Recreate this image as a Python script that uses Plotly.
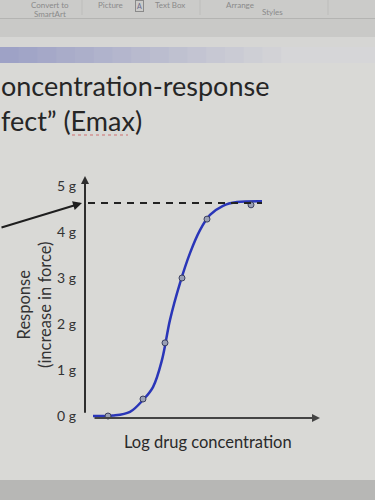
import plotly.graph_objects as go

# ---- data ----
log_conc_points = [0.75, 2.5, 3.6, 4.45, 5.7, 7.9]
response_points = [0.0, 0.37, 1.59, 3.0, 4.28, 4.59]

log_conc_curve = [0.0, 1.0, 1.85, 2.5, 3.0, 3.45, 3.85, 4.35, 4.85, 5.35, 5.85, 6.5, 7.2, 8.45]
response_curve = [0.0, 0.01, 0.09, 0.35, 0.63, 1.22, 2.09, 2.89, 3.54, 4.04, 4.37, 4.57, 4.65, 4.67]

emax = 4.63
y_tick_vals = [0, 1, 2, 3, 4, 5]
y_tick_text = ["0 g", "1 g", "2 g", "3 g", "4 g", "5 g"]

W, H = 375, 500
L, R, T, B = 85, 50, 176, 82
PW, PH = W - L - R, H - T - B


def xp(px):
    return (px - L) / PW


def yp(py):
    return (H - B - py) / PH


XMIN, XMAX = -0.4, 11.6
YMIN, YMAX = -0.043, 5.217

fig = go.Figure()

fig.add_trace(go.Scatter(
    x=log_conc_curve, y=response_curve, mode="lines",
    line=dict(color="#2a36b8", width=2.5, shape="spline", smoothing=1.0),
    hoverinfo="skip", showlegend=False, cliponaxis=False))
fig.add_trace(go.Scatter(
    x=log_conc_points, y=response_points, mode="markers",
    marker=dict(size=6, color="#9aa0b4", line=dict(color="#3a3f60", width=1)),
    showlegend=False, cliponaxis=False))

shapes = []
# photo background bands
shapes.append(dict(type="rect", xref="paper", yref="paper", x0=xp(0), x1=xp(W), y0=yp(0), y1=yp(18),
                   fillcolor="#cbcbc9", line_width=0, layer="below"))
shapes.append(dict(type="rect", xref="paper", yref="paper", x0=xp(0), x1=xp(W), y0=yp(18), y1=yp(37),
                   fillcolor="#c9c9c7", line_width=0, layer="below"))
shapes.append(dict(type="line", xref="paper", yref="paper", x0=xp(0), x1=xp(W), y0=yp(18.5), y1=yp(18.5),
                   line=dict(color="#b4b4b2", width=1), layer="below"))
shapes.append(dict(type="rect", xref="paper", yref="paper", x0=xp(0), x1=xp(W), y0=yp(37), y1=yp(47),
                   fillcolor="#d6d6d4", line_width=0, layer="below"))
for sx in [82, 200, 328]:
    shapes.append(dict(type="line", xref="paper", yref="paper", x0=xp(sx), x1=xp(sx), y0=yp(0), y1=yp(15),
                       line=dict(color="#bdbdbb", width=1), layer="below"))
# purple title bar with fade
n = 16
c0 = (158, 162, 198)
c1 = (214, 214, 216)
for i in range(n):
    t = i / (n - 1)
    col = "rgb(%d,%d,%d)" % tuple(int(c0[k] + (c1[k] - c0[k]) * t) for k in range(3))
    shapes.append(dict(type="rect", xref="paper", yref="paper",
                       x0=xp(i * 300 / n), x1=xp((i + 1) * 300 / n + 1), y0=yp(47), y1=yp(63),
                       fillcolor=col, line_width=0, layer="below"))
shapes.append(dict(type="rect", xref="paper", yref="paper", x0=xp(300), x1=xp(W), y0=yp(47), y1=yp(63),
                   fillcolor="#d6d6d8", line_width=0, layer="below"))
shapes.append(dict(type="rect", xref="paper", yref="paper", x0=xp(0), x1=xp(W), y0=yp(480), y1=yp(H),
                   fillcolor="#b7b7b5", line_width=0, layer="below"))
# red squiggle under Emax
shapes.append(dict(type="line", xref="paper", yref="paper", x0=xp(72), x1=xp(128), y0=yp(135), y1=yp(135),
                   line=dict(color="#d07070", width=1.2, dash="dot")))
# Emax dashed line
shapes.append(dict(type="line", xref="x", yref="y", x0=-0.25, x1=8.45, y0=emax, y1=emax,
                   line=dict(color="#222222", width=2, dash="7px,6px")))

annotations = []
# axes drawn as arrows
annotations.append(dict(x=XMIN, y=YMAX, ax=XMIN, ay=0.04, xref="x", yref="y", axref="x", ayref="y",
                        showarrow=True, arrowhead=2, arrowsize=0.8, arrowwidth=2, arrowcolor="#2e2e2e", text=""))
annotations.append(dict(x=11.35, y=YMIN, ax=0.0, ay=YMIN, xref="x", yref="y", axref="x", ayref="y",
                        showarrow=True, arrowhead=2, arrowsize=0.8, arrowwidth=2, arrowcolor="#444444", text=""))
# pointer arrow to Emax
annotations.append(dict(x=xp(82), y=yp(203), ax=-86, ay=25, xref="paper", yref="paper",
                        axref="pixel", ayref="pixel", showarrow=True, arrowhead=2, arrowsize=0.9,
                        arrowwidth=2, arrowcolor="#1e1e1e", text=""))
# title
annotations.append(dict(x=xp(-1), y=yp(86), xref="paper", yref="paper", xanchor="left", yanchor="middle",
                        text="oncentration-response", showarrow=False,
                        font=dict(family="Lato", size=27, color="#262626")))
annotations.append(dict(x=xp(-1), y=yp(120), xref="paper", yref="paper", xanchor="left", yanchor="middle",
                        text="fect\u201d (Emax)", showarrow=False,
                        font=dict(family="Lato", size=27, color="#262626")))
# y axis title
annotations.append(dict(x=xp(34), y=yp(305), xref="paper", yref="paper", xanchor="center", yanchor="middle",
                        text="Response<br>(increase in force)", textangle=-90, showarrow=False,
                        font=dict(family="Lato", size=16.5, color="#333333")))
# x axis title
annotations.append(dict(x=xp(208), y=yp(442), xref="paper", yref="paper", xanchor="center", yanchor="middle",
                        text="Log drug concentration", showarrow=False,
                        font=dict(family="Lato", size=16.5, color="#2a2a2a")))
# toolbar text
tb = [("Convert to", 50, 5), ("SmartArt", 50, 14), ("Picture", 110, 5), ("Text Box", 170, 5),
      ("Arrange", 240, 5), ("Styles", 272, 12)]
for txt, x, y in tb:
    annotations.append(dict(x=xp(x), y=yp(y), xref="paper", yref="paper", xanchor="center", yanchor="middle",
                            text=txt, showarrow=False, font=dict(family="Lato", size=8, color="#8a8a8a")))
annotations.append(dict(x=xp(139), y=yp(6), xref="paper", yref="paper", xanchor="center", yanchor="middle",
                        text="A", showarrow=False, bordercolor="#8a8a8a", borderwidth=1, borderpad=1,
                        font=dict(family="Lato", size=7, color="#6a6a8a")))

fig.update_layout(
    width=W, height=H, autosize=False,
    margin=dict(l=L, r=R, t=T, b=B, pad=0),
    paper_bgcolor="#d9d9d6", plot_bgcolor="rgba(0,0,0,0)",
    shapes=shapes, annotations=annotations,
    xaxis=dict(range=[XMIN, XMAX], showgrid=False, zeroline=False, showticklabels=False,
               showline=False, ticks=""),
    yaxis=dict(range=[YMIN, YMAX], showgrid=False, zeroline=False, showline=False, ticks="",
               tickvals=y_tick_vals, ticktext=y_tick_text, ticklabelstandoff=8,
               tickfont=dict(family="Lato", size=14, color="#333333")),
)

fig.write_html("out.html", config={"displayModeBar": False},
               post_script="document.body.style.margin='0';document.body.style.overflow='hidden';")
